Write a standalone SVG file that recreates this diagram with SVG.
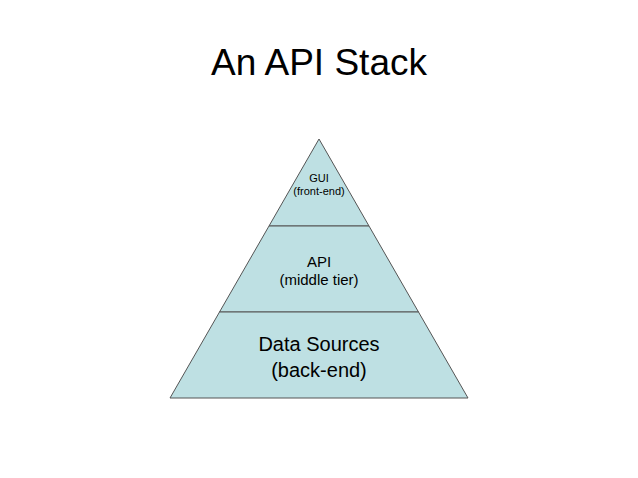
<svg xmlns="http://www.w3.org/2000/svg" width="638" height="478" viewBox="0 0 638 478">
<style>
.t{fill:#bee0e3;stroke:#555;stroke-width:1}
text{font-family:"Liberation Sans",Arial,sans-serif;fill:#000;text-anchor:middle}
</style>
<rect width="638" height="478" fill="#fff"/>
<text x="319" y="75" font-size="37">An API Stack</text>
<g id="gui"><polygon class="t" points="319,139 369,226 269,226"/>
<text x="319" y="182" font-size="11">GUI</text><text x="319" y="195" font-size="11">(front-end)</text></g>
<g id="api"><polygon class="t" points="269,226 369,226 418.5,312 219.5,312"/>
<text x="319" y="267" font-size="15">API</text><text x="319" y="285" font-size="15">(middle tier)</text></g>
<g id="data"><polygon class="t" points="219.5,312 418.5,312 468,398 170,398"/>
<text x="319" y="351" font-size="20">Data Sources</text><text x="319" y="377" font-size="20">(back-end)</text></g>
<g id="connectors"/>
</svg>
